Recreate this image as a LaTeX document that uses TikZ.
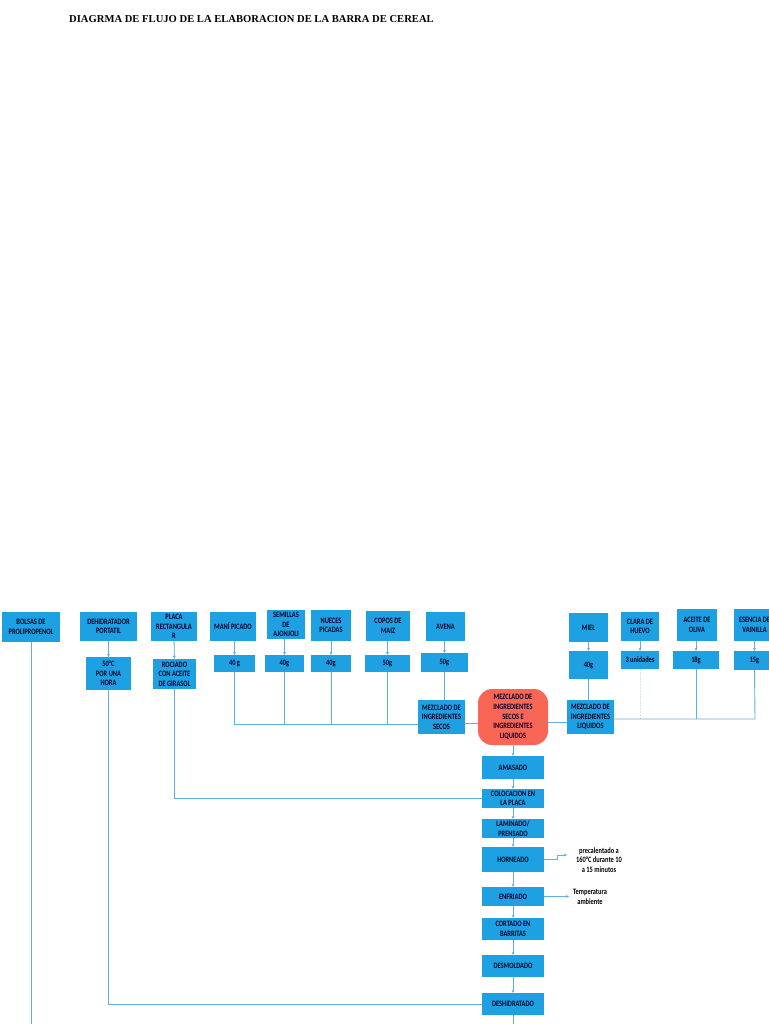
\documentclass[tikz,border=0pt]{standalone}
\usepackage{fontspec}
\setmainfont{Liberation Serif}
\newfontfamily\boxfont[FakeStretch=0.78]{Carlito}
\usetikzlibrary{arrows.meta}
\definecolor{boxblue}{RGB}{29,161,226}
\definecolor{boxred}{RGB}{250,102,86}
\definecolor{linkblue}{RGB}{95,176,224}
\definecolor{faintblue}{RGB}{205,228,242}
\tikzset{
  bx/.style={fill=boxblue, draw=none, inner sep=0pt, align=center,
    font=\boxfont\bfseries\fontsize{8.2}{9.6}\selectfont, text=black!85!blue},
  redbx/.style={bx, fill=boxred, rounded corners=14pt},
  link/.style={draw=linkblue, line width=0.9pt},
  arr/.style={link, -{Stealth[length=3pt,width=3pt]}},
  note/.style={inner sep=0pt, align=center, font=\boxfont\bfseries\fontsize{8.2}{9.8}\selectfont, text=black}
}
\begin{document}
\begin{tikzpicture}[x=1pt,y=-1pt]
\useasboundingbox (0,0) rectangle (768,1024);
\fill[white] (0,0) rectangle (768,1024);

\node[anchor=west, inner sep=0pt, font=\bfseries\fontsize{10.6}{12}\selectfont] (title) at (69,19) {DIAGRMA DE FLUJO DE LA ELABORACION DE LA BARRA DE CEREAL};

% top row
\node[bx, minimum width=58, minimum height=30] (bolsas) at (31,627) {BOLSAS DE\\PROLIPROPENOL};
\node[bx, minimum width=57, minimum height=29] (dehid) at (108.5,626.5) {DEHIDRATADOR\\PORTATIL};
\node[bx, minimum width=45, minimum height=33] (temp) at (108.5,673.5) {50°C\\POR UNA\\HORA};
\node[bx, minimum width=46, minimum height=29] (placa) at (174,626.5) {PLACA\\RECTANGULA\\R};
\node[bx, minimum width=43, minimum height=30] (rociado) at (174.5,674) {ROCIADO\\CON ACEITE\\DE GIRASOL};
\node[bx, minimum width=46, minimum height=29] (mani) at (233,626.5) {MANÍ PICADO};
\node[bx, minimum width=41, minimum height=17] (gmani) at (234.5,663.5) {40 g};
\node[bx, minimum width=38, minimum height=29] (semillas) at (286,624.5) {SEMILLAS\\DE\\AJONJOLI};
\node[bx, minimum width=39, minimum height=17] (gsem) at (284.5,663.5) {40g};
\node[bx, minimum width=40, minimum height=31] (nueces) at (331,625.5) {NUECES\\PICADAS};
\node[bx, minimum width=40, minimum height=17] (gnue) at (331,663.5) {40g};
\node[bx, minimum width=44, minimum height=30] (copos) at (388,626) {COPOS DE\\MAIZ};
\node[bx, minimum width=45, minimum height=17] (gcop) at (387.5,663.5) {50g};
\node[bx, minimum width=39, minimum height=29] (avena) at (445.5,626.5) {AVENA};
\node[bx, minimum width=47, minimum height=19] (gave) at (444.5,662.5) {50g};

\node[bx, minimum width=47, minimum height=34] (secos) at (441.5,717) {MEZCLADO DE\\INGREDIENTES\\SECOS};
\node[redbx, minimum width=70, minimum height=56] (mix) at (513,717) {MEZCLADO DE\\INGREDIENTES\\SECOS E\\INGREDIENTES\\LIQUIDOS};
\node[bx, minimum width=47, minimum height=34] (liq) at (590.5,717) {MEZCLADO DE\\INGREDIENTES\\LIQUIDOS};

\node[bx, minimum width=39, minimum height=29] (miel) at (588.5,627.5) {MIEL};
\node[bx, minimum width=39, minimum height=28] (gmiel) at (588.5,665) {40g};
\node[bx, minimum width=38, minimum height=29] (clara) at (640,626.5) {CLARA DE\\HUEVO};
\node[bx, minimum width=38, minimum height=18] (gcla) at (640,660) {3 unidades};
\node[bx, minimum width=40, minimum height=32] (aceite) at (697,625) {ACEITE DE\\OLIVA};
\node[bx, minimum width=46, minimum height=18] (gace) at (696,660) {18g};
\node[bx, minimum width=41, minimum height=32] (esencia) at (754.5,625) {ESENCIA DE\\VAINILLA};
\node[bx, minimum width=41, minimum height=19] (gese) at (754.5,660.5) {15g};

% process column
\node[bx, minimum width=62, minimum height=23] (amasado) at (513,767.5) {AMASADO};
\node[bx, minimum width=62, minimum height=19] (coloc) at (513,798.5) {COLOCACION EN\\LA PLACA};
\node[bx, minimum width=62, minimum height=19] (lamin) at (513,828.5) {LAMINADO/\\PRENSADO};
\node[bx, minimum width=62, minimum height=25] (horn) at (513,859.5) {HORNEADO};
\node[bx, minimum width=62, minimum height=19] (enfr) at (513,896.5) {ENFRIADO};
\node[bx, minimum width=62, minimum height=22] (cort) at (513,929) {CORTADO EN\\BARRITAS};
\node[bx, minimum width=62, minimum height=22] (desm) at (513,966) {DESMOLDADO};
\node[bx, minimum width=62, minimum height=22] (desh) at (513,1004) {DESHIDRATADO};

\node[note] (pre) at (599,860) {precalentado a\\160°C durante 10\\a 15 minutos};
\node[note] (amb) at (590,897) {Temperatura\\ambiente};

% free ends
\coordinate (bolsasend) at (31,1030);
\coordinate (deshend) at (513,1030);
\coordinate (secosline) at (234.5,724);
\coordinate (liqline) at (755,719);
\coordinate (prebend) at (557,855);
\coordinate (preend) at (567,855);
\coordinate (ambend) at (569,896.5);

% connectors - left
\draw[link] (bolsas.south) -- (bolsasend);
\draw[arr] (dehid) -- (temp);
\draw[link] (temp.south) |- (desh.west);
\draw[arr] (placa) -- (rociado);
\draw[link] (rociado.south) |- (coloc.west);

\draw[arr] (mani.south -| gmani.north) -- (gmani.north);
\draw[arr] (semillas.south -| gsem.north) -- (gsem.north);
\draw[arr] (nueces) -- (gnue);
\draw[arr] (copos.south -| gcop.north) -- (gcop.north);
\draw[arr] (avena.south -| gave.north) -- (gave.north);

\draw[link] (gmani.south) -- (secosline) -- ([yshift=-7pt]secos.west);
\draw[link] (gsem.south) -- (gsem.south |- secosline);
\draw[link] (gnue.south) -- (gnue.south |- secosline);
\draw[link] (gcop.south) -- (gcop.south |- secosline);
\draw[link] (gave.south) -- (secos.north -| gave.south);
\draw[link] ([yshift=-6pt]secos.east) -- ([yshift=-6pt]secos.east -| mix.west);
\draw[link] ([yshift=-5pt]liq.west) -- ([yshift=-5pt]liq.west -| mix.east);

% connectors - right
\draw[arr] (miel) -- (gmiel);
\draw[link] (gmiel.south) -- (gmiel.south |- liq.north);
\draw[arr] (clara) -- (gcla);
\draw[faintblue, line width=0.9pt, dash pattern=on 2pt off 1pt] (gcla.south) -- (gcla.south |- liqline);
\draw[arr] (aceite.south -| gace.north) -- (gace.north);
\draw[arr] (esencia) -- (gese);
\draw[link] (gese.south) -- (liqline) -- (liqline -| liq.east);
\draw[link] (gace.south) -- (gace.south |- liqline);

% process chain
\draw[arr] (mix) -- (amasado);
\draw[arr] (amasado) -- (coloc);
\draw[arr] (coloc) -- (lamin);
\draw[arr] (lamin) -- (horn);
\draw[arr] (horn) -- (enfr);
\draw[arr] (enfr) -- (cort);
\draw[arr] (cort) -- (desm);
\draw[arr] (desm) -- (desh);
\draw[link] (desh) -- (deshend);

\draw[arr] (horn.east) -| (prebend) -- (preend);
\draw[arr] (enfr.east) -- (ambend);
\end{tikzpicture}
\end{document}
